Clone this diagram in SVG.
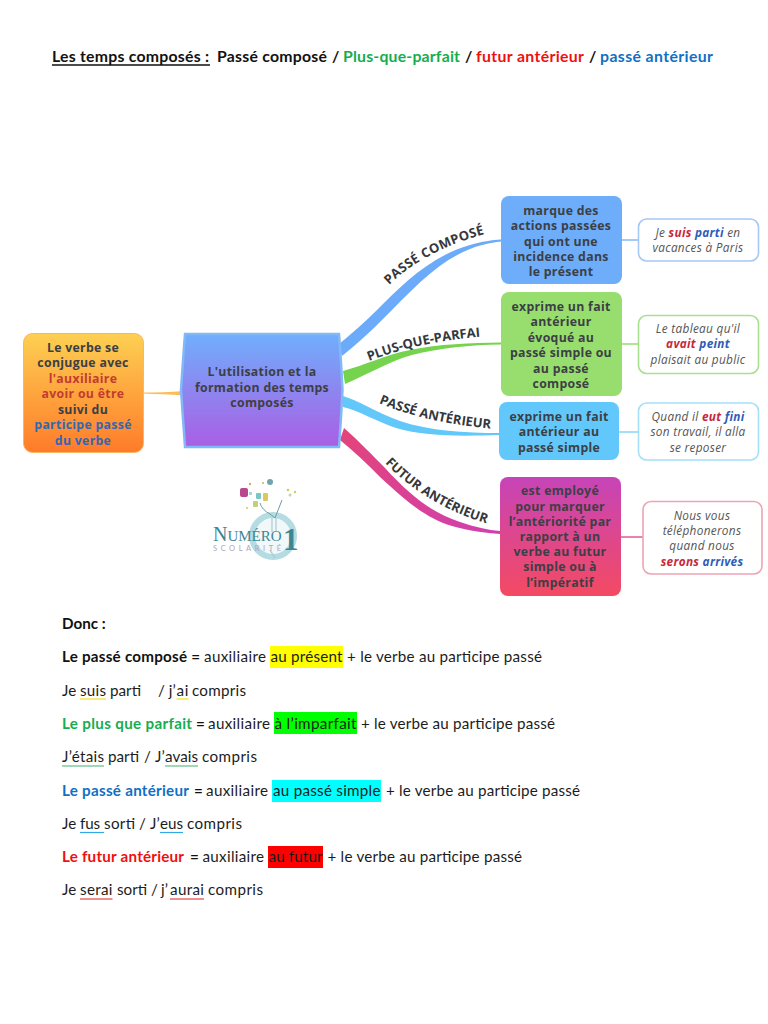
<svg xmlns="http://www.w3.org/2000/svg" xmlns:xlink="http://www.w3.org/1999/xlink" width="768" height="1024" viewBox="0 0 768 1024">
<style>
text{font-family:"Lato","Liberation Sans",sans-serif;font-size:15.2px;fill:#1c1c1c}
.b{font-weight:700}
.doc{fill:#111}
.t{font-size:15.8px;font-weight:700;fill:#111}
.m text{font-family:"Open Sans","DejaVu Sans",sans-serif;font-size:12.3px;letter-spacing:0.3px;font-weight:700;text-anchor:middle;fill:#3c3f45}
.e text{font-family:"Open Sans","DejaVu Sans",sans-serif;font-size:11.8px;letter-spacing:0.3px;font-style:italic;text-anchor:middle;fill:#555}
.e .r{fill:#c8283c;font-weight:700}
.e .u{fill:#2f5cb8;font-weight:700}
.l{font-family:"Open Sans","DejaVu Sans",sans-serif;font-size:13px;font-weight:700;fill:#34373c}
.ex{fill:#fff;stroke-width:1.6}
.ul{stroke-width:1.2;fill:none}
</style>
<defs>
<linearGradient id="go" x1="0" y1="0" x2="0" y2="1"><stop offset="0" stop-color="#fdd052"/><stop offset="1" stop-color="#ff7b2a"/></linearGradient>
<linearGradient id="gc" x1="0" y1="0" x2="0" y2="1"><stop offset="0" stop-color="#70aefc"/><stop offset="1" stop-color="#aa5ee4"/></linearGradient>
<linearGradient id="gm" x1="0" y1="0" x2="0" y2="1"><stop offset="0" stop-color="#c644b8"/><stop offset="1" stop-color="#f44a62"/></linearGradient>
<linearGradient id="gb" gradientUnits="userSpaceOnUse" x1="342" y1="430" x2="500" y2="532"><stop offset="0" stop-color="#e2447a"/><stop offset="1" stop-color="#d040b0"/></linearGradient>
<path id="p1" d="M389 285 Q427 248 493 232"/>
<path id="p2" d="M369 361 Q420 341 488 336"/>
<path id="p3" d="M379 403 Q425 423 496 429"/>
<path id="p4" d="M385 463 Q428 507 492 525"/>
<filter id="soft"><feGaussianBlur stdDeviation="0.5"/></filter>
</defs>
<rect width="768" height="1024" fill="#fff"/>

<g id="connectors">
<path d="M143 392.500 C155 392.500 170 392 184 391 L184 395.500 C170 394.500 155 394 143 393.500Z" fill="#fbbd55"/>
<path d="M338 345 C352 333 365 322 378 309 C400 287 430 256 470 245 C482 241.500 492 240 501 239.500 L501 241.500 C490 243 478 245.500 470 249 C437 262 412 290 384 318 C370 332 357 344 342 356Z" fill="#6cabfa"/>
<path d="M343 371 C365 365 385 355 410 350 C440 344 470 343 501 342.500 L501 344.500 C470 345 440 348 412 355 C390 361 366 375 345 384Z" fill="#75d34e"/>
<path d="M343 396 C360 401 375 412 400 421 C430 431 465 433 499 433 L499 435 C465 436 425 437 396 428 C375 421 360 411 343 407Z" fill="#62c8fa"/>
<path d="M344 428 C360 442 372 455 385 468 C410 495 430 512 460 522 C475 527 488 530 500 531 L500 534 C485 533 470 531 452 526 C425 518 405 500 380 477 C368 465 355 452 340 440Z" fill="url(#gb)"/>
<line x1="622" y1="240" x2="639" y2="240" stroke="#8fbdf7" stroke-width="1.6"/>
<line x1="622" y1="344" x2="639" y2="344" stroke="#9ade76" stroke-width="1.6"/>
<line x1="619" y1="432" x2="639" y2="432" stroke="#8ed8f8" stroke-width="1.6"/>
<line x1="620" y1="537" x2="644" y2="537" stroke="#e8609a" stroke-width="1.6"/>
</g>

<text x="52" y="62" class="t" textLength="157">Les temps composés :</text>
<line x1="52" y1="65" x2="210" y2="65" stroke="#111" stroke-width="1.300"/>
<text x="217" y="62" class="t" textLength="110">Passé composé</text>
<text x="332" y="62" class="t">/</text>
<text x="343" y="62" class="t" style="fill:#16ad50" textLength="117">Plus-que-parfait</text>
<text x="465" y="62" class="t">/</text>
<text x="476" y="62" class="t" style="fill:#f01010" textLength="108">futur antérieur</text>
<text x="589" y="62" class="t">/</text>
<text x="600" y="62" class="t" style="fill:#0f70c4" textLength="113">passé antérieur</text>

<g id="node-verbe" class="m">
<rect x="23.500" y="333.500" width="120" height="119" rx="9" fill="url(#go)" stroke="#f8b860" stroke-width="1"/>
<text x="83" y="351.500">Le verbe se</text>
<text x="83" y="366.500">conjugue avec</text>
<text x="83" y="382.500" style="fill:#c43c30">l'auxiliaire</text>
<text x="83" y="398" style="fill:#c43c30">avoir ou être</text>
<text x="83" y="413.500">suivi du</text>
<text x="83" y="429" style="fill:#2f68b4">participe passé</text>
<text x="83" y="444.500" style="fill:#2f68b4">du verbe</text>
</g>

<g id="node-central" class="m">
<path d="M185 334 L339 334 Q341 360 342.500 390 Q341 420 339 447 L185 447 Q183 420 181 390 Q183 360 185 334Z" fill="url(#gc)" stroke="#80b8f8" stroke-width="2.500"/>
<text x="262" y="376">L'utilisation et la</text>
<text x="262" y="391.500">formation des temps</text>
<text x="262" y="407">composés</text>
</g>

<g id="node-pc" class="m">
<rect x="501" y="196" width="121" height="88" rx="8" fill="#6dadfa"/>
<text x="561" y="214.500">marque des</text>
<text x="561" y="230">actions passées</text>
<text x="561" y="245.500">qui ont une</text>
<text x="561" y="260.500">incidence dans</text>
<text x="561" y="275.500">le présent</text>
</g>
<g id="node-pqp" class="m">
<rect x="501" y="292" width="121" height="104" rx="8" fill="#98de6e"/>
<text x="561" y="310.500">exprime un fait</text>
<text x="561" y="326">antérieur</text>
<text x="561" y="341.500">évoqué au</text>
<text x="561" y="357">passé simple ou</text>
<text x="561" y="372.500">au passé</text>
<text x="561" y="387.500">composé</text>
</g>
<g id="node-pa" class="m">
<rect x="499" y="402" width="120" height="58" rx="8" fill="#62c8fb"/>
<text x="559" y="420.500">exprime un fait</text>
<text x="559" y="435.500">antérieur au</text>
<text x="559" y="451.500">passé simple</text>
</g>
<g id="node-fa" class="m">
<rect x="500" y="477" width="121" height="119" rx="8" fill="url(#gm)"/>
<text x="560" y="495">est employé</text>
<text x="560" y="510.500">pour marquer</text>
<text x="560" y="525.500">l’antériorité par</text>
<text x="560" y="541">rapport à un</text>
<text x="560" y="556">verbe au futur</text>
<text x="560" y="571">simple ou à</text>
<text x="560" y="586.500">l’impératif</text>
</g>

<g id="ex-pc" class="e">
<rect class="ex" x="638.500" y="219" width="120" height="42" rx="8" stroke="#a6c8f4"/>
<text x="698" y="237">Je <tspan class="r">suis</tspan> <tspan class="u">parti</tspan> en</text>
<text x="698" y="252">vacances à Paris</text>
</g>
<g id="ex-pqp" class="e">
<rect class="ex" x="638.500" y="315.500" width="120" height="58" rx="8" stroke="#a8e090"/>
<text x="698" y="333">Le tableau qu'il</text>
<text x="698" y="348"><tspan class="r">avait</tspan> <tspan class="u">peint</tspan></text>
<text x="698" y="364">plaisait au public</text>
</g>
<g id="ex-pa" class="e">
<rect class="ex" x="638.500" y="403" width="120" height="57" rx="8" stroke="#a4e0f8"/>
<text x="698" y="421">Quand il <tspan class="r">eut</tspan> <tspan class="u">fini</tspan></text>
<text x="698" y="436">son travail, il alla</text>
<text x="698" y="451.500">se reposer</text>
</g>
<g id="ex-fa" class="e">
<rect class="ex" x="643" y="501.500" width="119" height="72.500" rx="8" stroke="#eda4b4"/>
<text x="702" y="519.500">Nous vous</text>
<text x="702" y="534.500">téléphonerons</text>
<text x="702" y="550">quand nous</text>
<text x="702" y="565.500"><tspan class="r">serons</tspan> <tspan class="u">arrivés</tspan></text>
</g>

<text class="l" letter-spacing="0.300"><textPath xlink:href="#p1" href="#p1">PASSÉ COMPOSÉ</textPath></text>
<text class="l"><textPath xlink:href="#p2" href="#p2">PLUS-QUE-PARFAI</textPath></text>
<text class="l"><textPath xlink:href="#p3" href="#p3">PASSÉ ANTÉRIEUR</textPath></text>
<text class="l"><textPath xlink:href="#p4" href="#p4">FUTUR ANTÉRIEUR</textPath></text>

<g id="logo">
<g filter="url(#soft)">
<circle cx="273" cy="536" r="21" fill="#f0f8f9" stroke="#b4dce2" stroke-width="6"/>
<path d="M260 503 Q262 510 270 514 L275 518 L282 500" fill="none" stroke="#6f9aa6" stroke-width="1"/>
<path d="M272 518 L272 532 M276 518 L276 532 M270 550 L275 558" fill="none" stroke="#a8ccd4" stroke-width="1.200"/>
<rect x="240" y="488" width="8" height="9" rx="2" fill="#b84a8c"/>
<circle cx="270" cy="482" r="3" fill="#6fa3ae"/>
<rect x="263" y="493" width="5" height="8" rx="1" fill="#dcc85e"/>
<rect x="256" y="493" width="5" height="6" rx="1" fill="#78c8c0"/>
<rect x="253" y="501" width="5" height="6" rx="1" fill="#c4d074"/>
<rect x="249" y="492" width="3" height="3" fill="#a8d8d0"/>
<circle cx="288" cy="490" r="1.300" fill="#d8c860"/>
<circle cx="295" cy="492" r="1.200" fill="#d8c860"/>
<circle cx="290" cy="495" r="1.500" fill="#b8d8b0"/>
<circle cx="250" cy="484" r="1.200" fill="#d8a860"/>
<circle cx="263" cy="483" r="1" fill="#c8b070"/>
<circle cx="247" cy="508" r="1" fill="#d8c860"/>
</g>
<text x="213" y="541" style="font-family:'Liberation Serif',serif;font-size:15px;fill:#3f8694"><tspan style="font-size:20px;font-family:'Liberation Serif',serif;fill:#3f8694">N</tspan>UMÉRO</text>
<text x="283" y="550" style="font-family:'Liberation Serif',serif;font-size:31px;font-weight:700;fill:#3f8694">1</text>
<text x="213" y="550.500" style="font-size:7.500px;fill:#b0a4b4" textLength="68">SCOLARITÉ</text>
</g>

<rect x="270" y="646" width="73" height="22" fill="#ffff00"/>
<rect x="274" y="712" width="83" height="22" fill="#00ff00"/>
<rect x="272" y="780" width="109" height="22" fill="#00ffff"/>
<rect x="268" y="846" width="55" height="22" fill="#ff0000"/>

<text x="62" y="629" class="b doc">Donc :</text>

<text x="62" y="662" class="b doc" textLength="138">Le passé composé =</text>
<text x="204" y="662" textLength="62">auxiliaire</text>
<text x="270.500" y="662" textLength="72">au présent</text>
<text x="347" y="662" textLength="195">+ le verbe au participe passé</text>

<text x="62" y="696">Je</text><text x="80" y="696" textLength="26">suis</text><text x="110" y="696" textLength="31">parti</text>
<text x="158" y="696">/ j’</text><text x="176.500" y="696" textLength="12">ai</text><text x="192" y="696" textLength="54">compris</text>
<line class="ul" x1="80" y1="699" x2="106" y2="699" stroke="#f0e020"/>
<line class="ul" x1="176.500" y1="699" x2="188.500" y2="699" stroke="#f0e020"/>

<text x="62" y="729" class="b" style="fill:#16ad50" textLength="130">Le plus que parfait</text>
<text x="196" y="729" class="b doc">=</text>
<text x="208" y="729" textLength="62">auxiliaire</text>
<text x="274.500" y="729" textLength="82">à l’imparfait</text>
<text x="361" y="729" textLength="194">+ le verbe au participe passé</text>

<text x="62" y="762" textLength="42">J’étais</text><text x="108" y="762" textLength="31">parti</text><text x="144" y="762">/</text><text x="155" y="762">J’</text><text x="165" y="762" textLength="33">avais</text><text x="202" y="762" textLength="55">compris</text>
<line class="ul" x1="62" y1="766" x2="104" y2="766" stroke="#40b070"/>
<line class="ul" x1="165" y1="766" x2="198" y2="766" stroke="#40b070"/>

<text x="62" y="796" class="b" style="fill:#0f70c4" textLength="127">Le passé antérieur</text>
<text x="194" y="796" class="b doc">=</text>
<text x="206" y="796" textLength="62">auxiliaire</text>
<text x="273" y="796" textLength="107.500">au passé simple</text>
<text x="386" y="796" textLength="194">+ le verbe au participe passé</text>

<text x="62" y="829">Je</text><text x="80" y="829" textLength="20">fus</text><text x="104" y="829" textLength="31">sorti</text><text x="139" y="829">/</text><text x="150" y="829">J’</text><text x="160" y="829" textLength="23">eus</text><text x="187" y="829" textLength="55">compris</text>
<line class="ul" x1="80" y1="832.500" x2="104" y2="832.500" stroke="#30a8e8"/>
<line class="ul" x1="160" y1="832.500" x2="183" y2="832.500" stroke="#30a8e8"/>

<text x="62" y="862" class="b" style="fill:#f01010" textLength="122">Le futur antérieur</text>
<text x="190" y="862" class="b doc">=</text>
<text x="202.500" y="862" textLength="61.500">auxiliaire</text>
<text x="268.500" y="862" textLength="54">au futur</text>
<text x="327.500" y="862" textLength="194.500">+ le verbe au participe passé</text>

<text x="62" y="895">Je</text><text x="80" y="895" textLength="32.500">serai</text><text x="117" y="895" textLength="30">sorti</text><text x="151" y="895">/</text><text x="161" y="895">j’</text><text x="170" y="895" textLength="34">aurai</text><text x="208" y="895" textLength="55">compris</text>
<line class="ul" x1="80" y1="899" x2="112.500" y2="899" stroke="#e02020"/>
<line class="ul" x1="170" y1="899" x2="204" y2="899" stroke="#e02020"/>
</svg>
